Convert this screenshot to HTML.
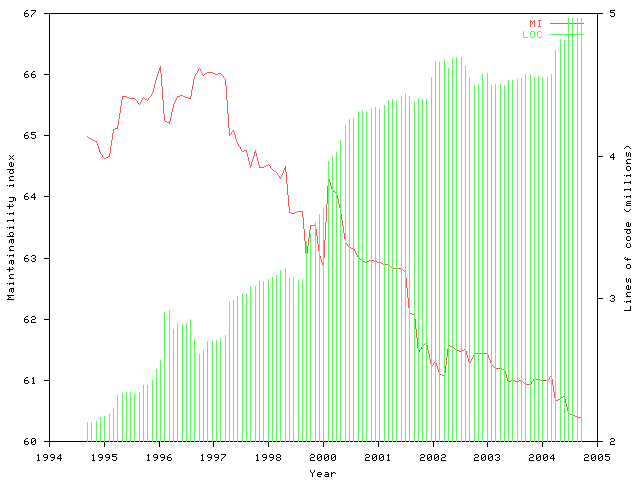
<!DOCTYPE html>
<html><head><meta charset="utf-8"><title>MI and LOC</title>
<style>html,body{margin:0;padding:0;background:#fff;}svg{display:block;}</style></head>
<body><svg width="640" height="480" viewBox="0 0 640 480" shape-rendering="crispEdges">
<rect width="640" height="480" fill="#fff"/>
<path fill="#000000" d="M26 10h2v1h-2zM31 10h5v1h-5zM610 10h5v1h-5zM35 11h1v1h-1zM610 11h1v1h-1zM25 11h1v1h-1zM24 12h1v1h-1zM34 12h1v1h-1zM610 12h4v1h-4zM33 13h1v1h-1zM44 13h559v1h-559zM24 13h4v1h-4zM32 14h1v1h-1zM614 13h1v3h-1zM28 14h1v2h-1zM24 14h1v2h-1zM610 15h1v1h-1zM31 15h1v2h-1zM25 16h3v1h-3zM611 16h3v1h-3zM33 71h2v1h-2zM26 71h2v1h-2zM32 72h1v1h-1zM25 72h1v1h-1zM49 14h1v60h-1zM24 73h1v1h-1zM31 73h1v1h-1zM31 74h4v1h-4zM24 74h4v1h-4zM44 74h6v1h-6zM35 75h1v2h-1zM28 75h1v2h-1zM31 75h1v2h-1zM24 75h1v2h-1zM25 77h3v1h-3zM32 77h3v1h-3zM26 132h2v1h-2zM31 132h5v1h-5zM25 133h1v1h-1zM31 133h1v1h-1zM49 75h1v60h-1zM24 134h1v1h-1zM31 134h4v1h-4zM24 135h4v1h-4zM44 135h6v1h-6zM35 135h1v3h-1zM28 136h1v2h-1zM24 136h1v2h-1zM31 137h1v1h-1zM25 138h3v1h-3zM32 138h3v1h-3zM626 146h3v1h-3zM625 147h1v1h-1zM629 147h1v1h-1zM624 148h1v1h-1zM630 148h1v1h-1zM629 152h1v1h-1zM613 153h1v1h-1zM612 154h2v1h-2zM597 14h1v142h-1zM626 152h1v4h-1zM628 153h1v3h-1zM9 155h1v1h-1zM13 155h1v1h-1zM611 155h1v1h-1zM630 153h1v4h-1zM613 155h1v2h-1zM10 156h1v1h-1zM12 156h1v1h-1zM597 156h6v1h-6zM627 156h1v1h-1zM610 156h1v1h-1zM11 157h1v1h-1zM610 157h5v1h-5zM10 158h1v1h-1zM12 158h1v1h-1zM613 158h1v2h-1zM9 159h1v1h-1zM13 159h1v1h-1zM627 159h4v1h-4zM626 160h1v2h-1zM627 162h1v1h-1zM10 162h2v1h-2zM626 163h5v1h-5zM9 163h1v3h-1zM13 163h1v3h-1zM11 163h1v3h-1zM10 166h3v1h-3zM627 166h3v1h-3zM630 167h1v3h-1zM626 167h1v3h-1zM7 169h7v1h-7zM10 170h1v1h-1zM12 170h1v1h-1zM627 170h3v1h-3zM9 171h1v2h-1zM13 171h1v2h-1zM10 173h3v1h-3zM630 174h1v1h-1zM624 175h1v1h-1zM626 175h5v1h-5zM630 176h1v1h-1zM626 176h1v1h-1zM10 176h4v1h-4zM9 177h1v2h-1zM10 179h1v1h-1zM9 180h5v1h-5zM630 181h1v1h-1zM624 182h7v1h-7zM624 183h1v1h-1zM630 183h1v1h-1zM13 184h1v1h-1zM9 185h5v1h-5zM7 185h1v1h-1zM9 186h1v1h-1zM13 186h1v1h-1zM630 188h1v1h-1zM624 189h7v1h-7zM624 190h1v1h-1zM630 190h1v1h-1zM26 193h2v1h-2zM34 193h1v1h-1zM33 194h2v1h-2zM25 194h1v1h-1zM49 136h1v60h-1zM630 195h1v1h-1zM32 195h1v1h-1zM24 195h1v1h-1zM34 195h1v2h-1zM624 196h1v1h-1zM31 196h1v1h-1zM24 196h4v1h-4zM44 196h6v1h-6zM626 196h5v1h-5zM630 197h1v1h-1zM626 197h1v1h-1zM31 197h5v1h-5zM9 197h6v1h-6zM28 197h1v2h-1zM24 197h1v2h-1zM34 198h1v2h-1zM25 199h3v1h-3zM13 198h1v3h-1zM15 198h1v3h-1zM627 201h4v1h-4zM9 201h4v1h-4zM626 202h1v1h-1zM627 203h4v1h-4zM626 204h1v1h-1zM12 204h1v1h-1zM9 204h1v2h-1zM13 205h1v1h-1zM626 205h5v1h-5zM7 206h6v1h-6zM9 207h1v2h-1zM624 209h1v1h-1zM630 209h1v1h-1zM625 210h1v1h-1zM629 210h1v1h-1zM626 211h3v1h-3zM13 212h1v1h-1zM9 213h5v1h-5zM7 213h1v1h-1zM9 214h1v1h-1zM13 214h1v1h-1zM13 219h1v1h-1zM7 220h7v1h-7zM13 221h1v1h-1zM7 221h1v1h-1zM627 222h2v1h-2zM630 223h1v3h-1zM626 223h1v3h-1zM628 223h1v3h-1zM13 226h1v1h-1zM627 226h3v1h-3zM9 227h5v1h-5zM7 227h1v1h-1zM9 228h1v1h-1zM13 228h1v1h-1zM624 229h7v1h-7zM627 230h1v1h-1zM629 230h1v1h-1zM630 231h1v2h-1zM626 231h1v2h-1zM10 232h3v1h-3zM627 233h3v1h-3zM9 233h1v2h-1zM13 233h1v2h-1zM10 235h1v1h-1zM12 235h1v1h-1zM627 236h3v1h-3zM7 236h7v1h-7zM630 237h1v3h-1zM626 237h1v3h-1zM10 239h4v1h-4zM627 240h3v1h-3zM9 240h1v3h-1zM13 240h1v3h-1zM11 240h1v3h-1zM629 243h1v1h-1zM12 243h1v1h-1zM627 243h1v1h-1zM630 244h1v3h-1zM626 244h1v3h-1zM10 246h4v1h-4zM627 247h3v1h-3zM9 247h1v2h-1zM10 249h1v1h-1zM9 250h5v1h-5zM13 254h1v1h-1zM9 255h5v1h-5zM32 255h3v1h-3zM26 255h2v1h-2zM7 255h1v1h-1zM9 256h1v1h-1zM13 256h1v1h-1zM31 256h1v1h-1zM25 256h1v1h-1zM49 197h1v61h-1zM35 256h1v2h-1zM24 257h1v1h-1zM625 257h1v1h-1zM624 258h1v1h-1zM33 258h2v1h-2zM627 258h1v1h-1zM24 258h4v1h-4zM44 258h6v1h-6zM625 259h6v1h-6zM35 259h1v2h-1zM28 259h1v2h-1zM24 259h1v2h-1zM10 260h4v1h-4zM31 260h1v1h-1zM627 260h1v1h-1zM25 261h3v1h-3zM32 261h3v1h-3zM9 261h1v3h-1zM13 261h1v3h-1zM11 261h1v3h-1zM12 264h1v1h-1zM627 264h3v1h-3zM630 265h1v3h-1zM626 265h1v3h-1zM12 267h1v1h-1zM9 267h1v2h-1zM13 268h1v1h-1zM627 268h3v1h-3zM7 269h6v1h-6zM9 270h1v2h-1zM10 274h4v1h-4zM9 275h1v2h-1zM10 277h1v1h-1zM629 278h1v1h-1zM9 278h5v1h-5zM626 278h1v4h-1zM628 279h1v3h-1zM630 279h1v4h-1zM13 282h1v1h-1zM627 282h1v1h-1zM9 283h5v1h-5zM7 283h1v1h-1zM9 284h1v1h-1zM13 284h1v1h-1zM627 285h2v1h-2zM630 286h1v3h-1zM626 286h1v3h-1zM628 286h1v3h-1zM10 288h4v1h-4zM627 289h3v1h-3zM9 289h1v3h-1zM13 289h1v3h-1zM11 289h1v3h-1zM627 292h4v1h-4zM12 292h1v1h-1zM626 293h1v2h-1zM611 295h3v1h-3zM627 295h1v1h-1zM7 295h7v1h-7zM8 296h1v1h-1zM610 296h1v1h-1zM626 296h5v1h-5zM597 157h1v141h-1zM614 296h1v2h-1zM9 297h2v1h-2zM597 298h6v1h-6zM612 298h2v1h-2zM8 298h1v1h-1zM7 299h7v1h-7zM614 299h1v2h-1zM630 300h1v1h-1zM610 300h1v1h-1zM624 301h1v1h-1zM611 301h3v1h-3zM626 301h5v1h-5zM630 302h1v1h-1zM626 302h1v1h-1zM630 306h1v4h-1zM624 310h7v1h-7zM26 316h2v1h-2zM32 316h3v1h-3zM31 317h1v1h-1zM25 317h1v1h-1zM49 259h1v60h-1zM35 317h1v2h-1zM24 318h1v1h-1zM24 319h4v1h-4zM32 319h3v1h-3zM44 319h6v1h-6zM28 320h1v2h-1zM31 320h1v2h-1zM24 320h1v2h-1zM25 322h3v1h-3zM31 322h5v1h-5zM33 377h1v1h-1zM26 377h2v1h-2zM32 378h2v1h-2zM25 378h1v1h-1zM49 320h1v60h-1zM24 379h1v1h-1zM24 380h4v1h-4zM44 380h6v1h-6zM33 379h1v4h-1zM28 381h1v2h-1zM24 381h1v2h-1zM25 383h3v1h-3zM32 383h3v1h-3zM611 438h3v1h-3zM32 438h3v1h-3zM26 438h2v1h-2zM35 439h1v1h-1zM610 439h1v1h-1zM25 439h1v1h-1zM597 299h1v142h-1zM49 381h1v60h-1zM614 439h1v2h-1zM34 440h2v1h-2zM24 440h1v1h-1zM31 439h1v3h-1zM492 441h3v1h-3zM324 441h4v1h-4zM286 441h3v1h-3zM118 441h4v1h-4zM406 441h3v1h-3zM217 441h3v1h-3zM131 441h3v1h-3zM380 441h4v1h-4zM513 441h4v1h-4zM427 441h4v1h-4zM466 441h3v1h-3zM105 441h4v1h-4zM260 441h3v1h-3zM191 441h3v1h-3zM256 441h3v1h-3zM522 441h3v1h-3zM354 441h4v1h-4zM316 441h3v1h-3zM148 441h4v1h-4zM569 441h3v1h-3zM247 441h3v1h-3zM385 441h3v1h-3zM24 441h4v1h-4zM483 441h4v1h-4zM445 441h3v1h-3zM543 441h4v1h-4zM376 441h3v1h-3zM208 441h4v1h-4zM290 441h3v1h-3zM372 441h3v1h-3zM457 441h4v1h-4zM419 441h3v1h-3zM350 441h3v1h-3zM415 441h3v1h-3zM346 441h3v1h-3zM178 441h4v1h-4zM140 441h3v1h-3zM238 441h4v1h-4zM475 441h3v1h-3zM269 441h3v1h-3zM535 441h3v1h-3zM367 441h4v1h-4zM320 441h3v1h-3zM531 441h3v1h-3zM114 441h3v1h-3zM92 441h4v1h-4zM110 441h3v1h-3zM449 441h3v1h-3zM281 441h4v1h-4zM243 441h3v1h-3zM509 441h3v1h-3zM341 441h4v1h-4zM505 441h3v1h-3zM234 441h3v1h-3zM299 441h3v1h-3zM170 441h3v1h-3zM501 441h3v1h-3zM230 441h3v1h-3zM423 441h3v1h-3zM548 441h3v1h-3zM226 441h3v1h-3zM397 441h4v1h-4zM359 441h3v1h-3zM479 441h3v1h-3zM311 441h4v1h-4zM273 441h3v1h-3zM144 441h3v1h-3zM204 441h3v1h-3zM44 441h43v1h-43zM440 441h4v1h-4zM200 441h3v1h-3zM539 441h3v1h-3zM333 441h3v1h-3zM165 441h4v1h-4zM453 441h3v1h-3zM496 441h4v1h-4zM329 441h3v1h-3zM123 441h3v1h-3zM389 441h3v1h-3zM221 441h4v1h-4zM174 441h3v1h-3zM582 441h21v1h-21zM578 441h3v1h-3zM307 441h3v1h-3zM410 441h4v1h-4zM518 441h3v1h-3zM556 441h4v1h-4zM470 441h4v1h-4zM303 441h3v1h-3zM135 441h4v1h-4zM97 441h3v1h-3zM363 441h3v1h-3zM611 441h3v1h-3zM195 441h4v1h-4zM88 441h3v1h-3zM552 441h3v1h-3zM277 441h3v1h-3zM526 441h4v1h-4zM488 441h3v1h-3zM337 441h3v1h-3zM153 441h3v1h-3zM573 441h4v1h-4zM251 441h4v1h-4zM213 441h3v1h-3zM402 441h3v1h-3zM462 441h3v1h-3zM294 441h4v1h-4zM127 441h3v1h-3zM393 441h3v1h-3zM187 441h3v1h-3zM183 441h3v1h-3zM33 441h1v1h-1zM436 441h3v1h-3zM101 441h3v1h-3zM432 441h3v1h-3zM161 441h3v1h-3zM264 441h4v1h-4zM565 441h3v1h-3zM157 441h3v1h-3zM561 441h3v1h-3zM31 442h2v1h-2zM35 441h1v3h-1zM28 442h1v2h-1zM24 442h1v2h-1zM610 442h1v2h-1zM31 443h1v1h-1zM610 444h5v1h-5zM25 444h3v1h-3zM32 444h3v1h-3zM433 442h1v5h-1zM378 442h1v5h-1zM487 442h1v5h-1zM542 442h1v5h-1zM597 442h1v5h-1zM159 442h1v5h-1zM213 442h1v5h-1zM323 442h1v5h-1zM49 442h1v5h-1zM104 442h1v5h-1zM268 442h1v5h-1zM332 454h3v1h-3zM388 454h1v1h-1zM428 454h3v1h-3zM277 454h3v1h-3zM208 454h3v1h-3zM263 454h3v1h-3zM318 454h3v1h-3zM442 454h3v1h-3zM221 454h5v1h-5zM544 454h3v1h-3zM599 454h3v1h-3zM530 454h3v1h-3zM585 454h3v1h-3zM257 454h1v1h-1zM489 454h3v1h-3zM154 454h3v1h-3zM475 454h3v1h-3zM202 454h1v1h-1zM44 454h3v1h-3zM99 454h3v1h-3zM60 454h1v1h-1zM311 454h3v1h-3zM366 454h3v1h-3zM112 454h5v1h-5zM435 454h3v1h-3zM325 454h3v1h-3zM380 454h3v1h-3zM421 454h3v1h-3zM93 454h1v1h-1zM148 454h1v1h-1zM215 454h3v1h-3zM270 454h3v1h-3zM482 454h3v1h-3zM51 454h3v1h-3zM537 454h3v1h-3zM38 454h1v1h-1zM553 454h1v1h-1zM592 454h3v1h-3zM496 454h3v1h-3zM161 454h3v1h-3zM169 454h2v1h-2zM106 454h3v1h-3zM605 454h5v1h-5zM373 454h3v1h-3zM201 455h2v1h-2zM59 455h2v1h-2zM540 455h1v1h-1zM147 455h2v1h-2zM485 455h1v1h-1zM605 455h1v1h-1zM92 455h2v1h-2zM383 455h1v1h-1zM431 455h1v1h-1zM37 455h2v1h-2zM495 455h1v1h-1zM335 455h1v1h-1zM552 455h2v1h-2zM321 455h1v1h-1zM387 455h2v1h-2zM376 455h1v1h-1zM441 455h1v1h-1zM225 455h1v1h-1zM529 455h1v1h-1zM602 455h1v1h-1zM474 455h1v1h-1zM492 455h1v1h-1zM547 455h1v1h-1zM584 455h1v1h-1zM256 455h2v1h-2zM112 455h1v1h-1zM328 455h1v1h-1zM365 455h1v1h-1zM420 455h1v1h-1zM438 455h1v1h-1zM310 455h1v1h-1zM168 455h1v1h-1zM595 455h1v1h-1zM269 455h1v2h-1zM164 455h1v2h-1zM499 455h1v2h-1zM109 455h1v2h-1zM54 455h1v2h-1zM160 455h1v2h-1zM50 455h1v2h-1zM105 455h1v2h-1zM266 455h1v2h-1zM211 455h1v2h-1zM445 455h1v2h-1zM207 455h1v2h-1zM280 455h1v2h-1zM588 455h1v2h-1zM276 455h1v2h-1zM478 455h1v2h-1zM262 455h1v2h-1zM533 455h1v2h-1zM102 455h1v2h-1zM157 455h1v2h-1zM47 455h1v2h-1zM98 455h1v2h-1zM43 455h1v2h-1zM424 455h1v2h-1zM273 455h1v2h-1zM314 455h1v2h-1zM153 455h1v2h-1zM369 455h1v2h-1zM218 455h1v2h-1zM214 455h1v2h-1zM491 456h2v1h-2zM546 456h2v1h-2zM58 456h1v1h-1zM601 456h2v1h-2zM437 456h2v1h-2zM605 456h4v1h-4zM224 456h1v1h-1zM327 456h2v1h-2zM382 456h2v1h-2zM594 456h2v1h-2zM484 456h2v1h-2zM551 456h1v1h-1zM539 456h2v1h-2zM320 456h2v1h-2zM167 456h1v1h-1zM375 456h2v1h-2zM112 456h4v1h-4zM430 456h2v1h-2zM334 456h2v1h-2zM379 455h1v3h-1zM434 455h1v3h-1zM324 455h1v3h-1zM536 455h1v3h-1zM591 455h1v3h-1zM481 455h1v3h-1zM427 455h1v3h-1zM372 455h1v3h-1zM331 455h1v3h-1zM317 455h1v3h-1zM598 455h1v3h-1zM488 455h1v3h-1zM543 455h1v3h-1zM60 456h1v2h-1zM553 456h1v2h-1zM99 457h4v1h-4zM154 457h4v1h-4zM333 457h1v1h-1zM44 457h4v1h-4zM277 457h3v1h-3zM600 457h1v1h-1zM490 457h1v1h-1zM442 457h3v1h-3zM545 457h1v1h-1zM270 457h4v1h-4zM550 457h1v1h-1zM215 457h4v1h-4zM530 457h3v1h-3zM585 457h3v1h-3zM475 457h3v1h-3zM381 457h1v1h-1zM51 457h4v1h-4zM436 457h1v1h-1zM311 457h3v1h-3zM366 457h3v1h-3zM497 457h2v1h-2zM106 457h4v1h-4zM161 457h4v1h-4zM326 457h1v1h-1zM421 457h3v1h-3zM593 457h1v1h-1zM483 457h1v1h-1zM538 457h1v1h-1zM167 457h4v1h-4zM57 457h1v1h-1zM208 457h4v1h-4zM263 457h4v1h-4zM374 457h1v1h-1zM429 457h1v1h-1zM319 457h1v1h-1zM223 457h1v1h-1zM427 458h2v1h-2zM164 458h1v1h-1zM331 458h2v1h-2zM317 458h2v1h-2zM372 458h2v1h-2zM109 458h1v1h-1zM598 458h2v1h-2zM54 458h1v1h-1zM266 458h1v1h-1zM211 458h1v1h-1zM543 458h2v1h-2zM488 458h2v1h-2zM57 458h5v1h-5zM102 458h1v1h-1zM157 458h1v1h-1zM47 458h1v1h-1zM324 458h2v1h-2zM379 458h2v1h-2zM434 458h2v1h-2zM222 458h1v1h-1zM481 458h2v1h-2zM273 458h1v1h-1zM536 458h2v1h-2zM591 458h2v1h-2zM218 458h1v1h-1zM550 458h5v1h-5zM388 456h1v4h-1zM257 456h1v4h-1zM202 456h1v4h-1zM93 456h1v4h-1zM148 456h1v4h-1zM38 456h1v4h-1zM540 457h1v3h-1zM609 457h1v3h-1zM485 457h1v3h-1zM383 457h1v3h-1zM431 457h1v3h-1zM335 457h1v3h-1zM321 457h1v3h-1zM376 457h1v3h-1zM602 457h1v3h-1zM492 457h1v3h-1zM547 457h1v3h-1zM116 457h1v3h-1zM328 457h1v3h-1zM438 457h1v3h-1zM595 457h1v3h-1zM499 458h1v2h-1zM441 458h1v2h-1zM280 458h1v2h-1zM276 458h1v2h-1zM529 458h1v2h-1zM474 458h1v2h-1zM171 458h1v2h-1zM584 458h1v2h-1zM167 458h1v2h-1zM365 458h1v2h-1zM420 458h1v2h-1zM310 458h1v2h-1zM379 459h1v1h-1zM163 459h1v1h-1zM434 459h1v1h-1zM324 459h1v1h-1zM108 459h1v1h-1zM536 459h1v1h-1zM591 459h1v1h-1zM481 459h1v1h-1zM210 459h1v1h-1zM265 459h1v1h-1zM605 459h1v1h-1zM495 459h1v1h-1zM427 459h1v1h-1zM156 459h1v1h-1zM101 459h1v1h-1zM46 459h1v1h-1zM372 459h1v1h-1zM331 459h1v1h-1zM317 459h1v1h-1zM598 459h1v1h-1zM488 459h1v1h-1zM217 459h1v1h-1zM272 459h1v1h-1zM112 459h1v1h-1zM543 459h1v1h-1zM53 459h1v1h-1zM60 459h1v2h-1zM221 459h1v2h-1zM553 459h1v2h-1zM332 460h3v1h-3zM387 460h3v1h-3zM51 460h2v1h-2zM428 460h3v1h-3zM277 460h3v1h-3zM318 460h3v1h-3zM441 460h5v1h-5zM161 460h2v1h-2zM106 460h2v1h-2zM544 460h3v1h-3zM599 460h3v1h-3zM168 460h3v1h-3zM489 460h3v1h-3zM474 460h5v1h-5zM529 460h5v1h-5zM263 460h2v1h-2zM584 460h5v1h-5zM208 460h2v1h-2zM256 460h3v1h-3zM113 460h3v1h-3zM435 460h3v1h-3zM325 460h3v1h-3zM380 460h3v1h-3zM420 460h5v1h-5zM310 460h5v1h-5zM365 460h5v1h-5zM201 460h3v1h-3zM373 460h3v1h-3zM482 460h3v1h-3zM154 460h2v1h-2zM99 460h2v1h-2zM147 460h3v1h-3zM44 460h2v1h-2zM537 460h3v1h-3zM592 460h3v1h-3zM496 460h3v1h-3zM606 460h3v1h-3zM92 460h3v1h-3zM37 460h3v1h-3zM270 460h2v1h-2zM215 460h2v1h-2zM310 470h1v2h-1zM314 470h1v2h-1zM333 472h2v1h-2zM331 472h1v1h-1zM325 472h3v1h-3zM311 472h1v1h-1zM313 472h1v1h-1zM318 472h3v1h-3zM335 473h1v1h-1zM328 473h1v1h-1zM317 473h1v1h-1zM321 473h1v1h-1zM331 473h2v1h-2zM325 474h4v1h-4zM317 474h5v1h-5zM324 475h1v1h-1zM328 475h1v1h-1zM317 475h1v1h-1zM312 473h1v4h-1zM331 474h1v3h-1zM318 476h3v1h-3zM325 476h4v1h-4z"/>
<path fill="#ff5555" d="M538 20h3v1h-3zM530 20h1v1h-1zM534 20h1v1h-1zM533 21h2v1h-2zM530 21h2v1h-2zM532 22h1v2h-1zM569 23h3v1h-3zM582 23h2v1h-2zM550 23h18v1h-18zM578 23h3v1h-3zM573 23h4v1h-4zM539 21h1v5h-1zM530 22h1v5h-1zM534 22h1v5h-1zM538 26h3v1h-3zM160 66h1v2h-1zM199 68h1v1h-1zM159 68h2v3h-2zM198 69h1v2h-1zM200 69h1v2h-1zM160 71h1v2h-1zM197 71h1v2h-1zM201 71h1v2h-1zM207 72h6v1h-6zM158 71h1v3h-1zM213 73h2v1h-2zM205 73h2v1h-2zM218 73h3v1h-3zM196 73h1v1h-1zM202 73h1v2h-1zM215 74h3v1h-3zM221 74h1v1h-1zM204 74h1v1h-1zM195 74h1v2h-1zM222 75h1v1h-1zM203 75h1v1h-1zM157 74h1v3h-1zM223 76h1v2h-1zM194 76h1v3h-1zM224 78h1v1h-1zM156 77h1v3h-1zM155 80h1v4h-1zM193 79h1v6h-1zM225 79h1v7h-1zM161 73h1v14h-1zM154 84h1v4h-1zM192 85h1v5h-1zM153 88h1v4h-1zM152 92h1v2h-1zM191 90h1v6h-1zM151 94h1v2h-1zM180 95h3v1h-3zM177 96h3v1h-3zM122 96h5v1h-5zM150 96h1v1h-1zM183 96h2v1h-2zM190 96h1v2h-1zM185 97h3v1h-3zM127 97h2v1h-2zM149 97h1v1h-1zM177 97h1v1h-1zM143 97h1v1h-1zM188 98h3v1h-3zM144 98h1v1h-1zM129 98h6v1h-6zM226 86h1v14h-1zM162 87h1v13h-1zM122 97h1v3h-1zM176 98h1v2h-1zM148 98h1v2h-1zM142 98h1v2h-1zM135 99h1v1h-1zM145 99h2v1h-2zM136 100h1v1h-1zM147 100h1v1h-1zM175 100h1v2h-1zM141 100h1v2h-1zM137 101h1v2h-1zM174 102h1v2h-1zM140 102h1v2h-1zM138 103h1v1h-1zM139 104h1v1h-1zM121 100h1v6h-1zM173 104h1v4h-1zM172 108h1v4h-1zM120 106h1v7h-1zM163 100h1v14h-1zM227 100h1v14h-1zM171 112h1v5h-1zM119 113h1v6h-1zM164 114h1v7h-1zM170 117h1v4h-1zM169 121h1v1h-1zM165 121h2v1h-2zM167 122h3v1h-3zM169 123h1v1h-1zM118 119h1v6h-1zM228 114h1v14h-1zM117 125h1v3h-1zM115 128h3v1h-3zM113 129h2v1h-2zM233 130h1v1h-1zM232 131h2v1h-2zM113 130h1v3h-1zM229 128h1v6h-1zM231 132h1v2h-1zM234 132h1v3h-1zM229 134h2v1h-2zM229 135h1v1h-1zM87 136h1v1h-1zM88 137h1v1h-1zM235 135h1v4h-1zM89 138h2v1h-2zM112 133h1v7h-1zM91 139h2v1h-2zM93 140h2v1h-2zM236 139h1v3h-1zM95 141h2v1h-2zM96 142h1v1h-1zM237 142h1v2h-1zM111 140h1v6h-1zM97 143h1v3h-1zM238 144h1v2h-1zM239 146h1v1h-1zM98 146h1v3h-1zM240 147h1v2h-1zM241 149h1v2h-1zM244 150h3v1h-3zM99 149h1v3h-1zM255 150h1v2h-1zM242 151h2v1h-2zM110 146h1v7h-1zM246 151h1v2h-1zM254 152h2v1h-2zM100 152h1v2h-1zM101 154h1v1h-1zM254 153h1v3h-1zM109 153h1v3h-1zM247 153h1v4h-1zM256 153h1v4h-1zM102 155h1v2h-1zM108 156h2v1h-2zM103 157h1v1h-1zM106 157h2v1h-2zM253 156h1v3h-1zM104 158h2v1h-2zM257 157h1v4h-1zM248 157h1v4h-1zM252 159h1v3h-1zM258 161h1v4h-1zM249 161h1v4h-1zM251 162h1v3h-1zM268 164h1v1h-1zM266 165h2v1h-2zM250 165h2v1h-2zM269 165h1v1h-1zM259 165h1v2h-1zM264 166h2v1h-2zM270 166h1v2h-1zM285 166h1v2h-1zM250 166h1v2h-1zM259 167h5v1h-5zM271 168h1v1h-1zM284 168h2v2h-2zM272 169h1v1h-1zM273 170h1v1h-1zM285 170h1v2h-1zM274 171h2v1h-2zM283 170h1v3h-1zM276 172h1v1h-1zM277 173h1v2h-1zM282 173h1v2h-1zM278 175h1v1h-1zM281 175h1v2h-1zM279 176h1v1h-1zM279 177h2v1h-2zM280 178h1v1h-1zM329 179h1v3h-1zM286 172h1v12h-1zM330 182h1v4h-1zM331 186h1v3h-1zM333 191h2v1h-2zM335 192h1v1h-1zM287 184h1v11h-1zM337 195h1v4h-1zM327 186h1v18h-1zM338 199h1v5h-1zM288 195h1v12h-1zM339 204h1v4h-1zM289 207h1v5h-1zM297 211h6v1h-6zM295 212h2v1h-2zM289 212h2v1h-2zM291 213h4v1h-4zM302 212h1v5h-1zM341 214h1v6h-1zM326 204h1v18h-1zM342 220h1v6h-1zM310 225h5v1h-5zM303 217h1v12h-1zM310 226h1v4h-1zM343 226h1v7h-1zM316 229h1v7h-1zM309 230h1v8h-1zM344 233h1v6h-1zM325 222h1v18h-1zM304 229h1v12h-1zM317 236h1v8h-1zM346 243h1v1h-1zM308 238h1v8h-1zM347 244h1v2h-1zM348 246h1v1h-1zM350 247h1v1h-1zM351 248h2v1h-2zM318 244h1v7h-1zM354 249h1v2h-1zM305 241h1v12h-1zM355 251h1v2h-1zM307 246h1v8h-1zM356 253h1v2h-1zM357 255h1v2h-1zM324 240h1v18h-1zM320 256h1v3h-1zM359 258h1v1h-1zM360 259h2v1h-2zM372 260h2v1h-2zM369 260h2v1h-2zM321 259h1v3h-1zM367 261h2v1h-2zM374 261h1v1h-1zM376 261h1v1h-1zM363 261h2v1h-2zM380 262h1v1h-1zM365 262h1v1h-1zM377 262h2v1h-2zM381 263h2v1h-2zM322 262h1v3h-1zM383 264h1v1h-1zM385 264h3v1h-3zM389 265h1v1h-1zM390 266h1v1h-1zM391 267h1v1h-1zM393 268h3v1h-3zM397 268h4v1h-4zM402 269h1v1h-1zM403 270h1v1h-1zM404 271h1v1h-1zM406 278h1v10h-1zM407 288h1v10h-1zM408 298h1v10h-1zM410 313h2v1h-2zM412 314h2v1h-2zM415 319h1v10h-1zM416 329h1v9h-1zM425 343h1v1h-1zM424 344h1v1h-1zM449 345h1v1h-1zM423 345h1v1h-1zM450 346h2v1h-2zM417 338h1v10h-1zM453 347h1v1h-1zM421 347h1v2h-1zM454 348h1v1h-1zM427 345h1v5h-1zM464 349h1v1h-1zM455 349h1v1h-1zM420 349h1v1h-1zM462 350h2v1h-2zM457 350h2v1h-2zM419 350h1v2h-1zM459 351h2v1h-2zM428 350h1v4h-1zM475 353h3v1h-3zM479 353h3v1h-3zM483 353h4v1h-4zM466 351h1v4h-1zM447 349h1v8h-1zM473 355h1v2h-1zM488 355h1v3h-1zM467 355h1v3h-1zM429 354h1v5h-1zM472 357h1v2h-1zM489 358h1v2h-1zM471 359h1v2h-1zM468 358h1v4h-1zM490 360h1v3h-1zM470 361h1v2h-1zM434 362h1v1h-1zM430 359h1v5h-1zM446 357h1v8h-1zM433 363h1v2h-1zM436 363h1v3h-1zM492 365h1v1h-1zM432 365h1v1h-1zM493 366h1v1h-1zM494 367h1v1h-1zM437 366h1v3h-1zM496 368h4v1h-4zM501 368h1v1h-1zM502 369h2v1h-2zM438 369h1v3h-1zM445 365h1v8h-1zM505 371h1v3h-1zM440 374h2v1h-2zM442 375h2v1h-2zM550 376h1v1h-1zM506 374h1v4h-1zM549 377h1v2h-1zM535 378h1v1h-1zM536 379h2v1h-2zM548 379h1v1h-1zM539 379h1v1h-1zM507 378h1v3h-1zM533 379h1v2h-1zM511 380h1v1h-1zM543 380h4v1h-4zM519 380h2v1h-2zM540 380h2v1h-2zM513 380h2v1h-2zM509 381h2v1h-2zM532 381h1v1h-1zM518 381h1v1h-1zM522 381h1v1h-1zM515 381h2v1h-2zM523 382h1v1h-1zM531 382h1v2h-1zM524 383h1v1h-1zM552 379h1v6h-1zM526 384h4v1h-4zM553 385h1v7h-1zM563 396h1v1h-1zM554 392h1v6h-1zM561 397h2v1h-2zM558 399h2v1h-2zM556 400h2v1h-2zM565 399h1v4h-1zM566 403h1v4h-1zM567 407h1v4h-1zM569 413h1v1h-1zM570 414h2v1h-2zM573 415h2v1h-2zM575 416h2v1h-2zM578 417h3v1h-3z"/>
<path fill="#55ff55" d="M538 31h3v1h-3zM531 31h3v1h-3zM541 32h1v1h-1zM577 18h1v16h-1zM568 18h1v16h-1zM572 18h1v16h-1zM581 18h1v16h-1zM550 34h34v1h-34zM523 31h1v6h-1zM537 32h1v5h-1zM530 32h1v5h-1zM534 32h1v5h-1zM541 36h1v1h-1zM538 37h3v1h-3zM523 37h5v1h-5zM531 37h3v1h-3zM568 35h1v407h-1zM572 35h1v407h-1zM581 35h1v407h-1zM577 35h1v407h-1zM560 39h1v403h-1zM564 40h1v402h-1zM555 50h1v392h-1zM461 57h1v385h-1zM456 57h1v385h-1zM452 58h1v384h-1zM444 59h1v383h-1zM435 61h1v381h-1zM439 62h1v380h-1zM465 66h1v376h-1zM448 68h1v374h-1zM487 73h1v369h-1zM482 74h1v368h-1zM551 74h1v368h-1zM525 74h1v368h-1zM530 74h1v368h-1zM538 76h1v366h-1zM431 77h1v365h-1zM469 77h1v365h-1zM547 77h1v365h-1zM534 77h1v365h-1zM542 78h1v364h-1zM521 78h1v364h-1zM517 79h1v363h-1zM508 80h1v362h-1zM512 80h1v362h-1zM495 84h1v358h-1zM500 84h1v358h-1zM478 84h1v358h-1zM504 85h1v357h-1zM491 85h1v357h-1zM474 86h1v356h-1zM405 93h1v349h-1zM409 96h1v346h-1zM401 96h1v346h-1zM418 98h1v344h-1zM426 99h1v343h-1zM422 99h1v343h-1zM392 99h1v343h-1zM388 100h1v342h-1zM396 100h1v342h-1zM414 101h1v341h-1zM384 105h1v337h-1zM375 107h1v335h-1zM371 108h1v334h-1zM379 109h1v333h-1zM362 110h1v332h-1zM366 111h1v331h-1zM358 111h1v331h-1zM353 118h1v324h-1zM349 119h1v323h-1zM345 125h1v317h-1zM340 140h1v302h-1zM336 152h1v290h-1zM332 155h1v287h-1zM328 161h1v281h-1zM323 208h1v234h-1zM319 214h1v228h-1zM315 222h1v220h-1zM310 234h1v208h-1zM306 241h1v201h-1zM285 268h1v174h-1zM280 270h1v172h-1zM276 275h1v167h-1zM293 277h1v165h-1zM272 277h1v165h-1zM289 278h1v164h-1zM302 279h1v163h-1zM268 279h1v163h-1zM298 280h1v162h-1zM263 281h1v161h-1zM259 281h1v161h-1zM255 286h1v156h-1zM250 286h1v156h-1zM246 294h1v148h-1zM242 294h1v148h-1zM237 296h1v146h-1zM233 300h1v142h-1zM229 301h1v141h-1zM169 310h1v132h-1zM164 312h1v130h-1zM190 319h1v123h-1zM177 323h1v119h-1zM186 323h1v119h-1zM182 324h1v118h-1zM173 329h1v113h-1zM225 335h1v107h-1zM220 338h1v104h-1zM194 339h1v103h-1zM216 340h1v102h-1zM207 341h1v101h-1zM212 341h1v101h-1zM203 350h1v92h-1zM199 354h1v88h-1zM160 360h1v82h-1zM156 369h1v73h-1zM152 380h1v62h-1zM147 385h1v57h-1zM143 385h1v57h-1zM126 392h1v50h-1zM139 392h1v50h-1zM130 392h1v50h-1zM122 393h1v49h-1zM134 394h1v48h-1zM117 395h1v47h-1zM113 409h1v33h-1zM109 414h1v28h-1zM104 416h1v26h-1zM100 417h1v25h-1zM96 421h1v21h-1zM87 422h1v20h-1zM91 422h1v20h-1z"/>
</svg></body></html>
